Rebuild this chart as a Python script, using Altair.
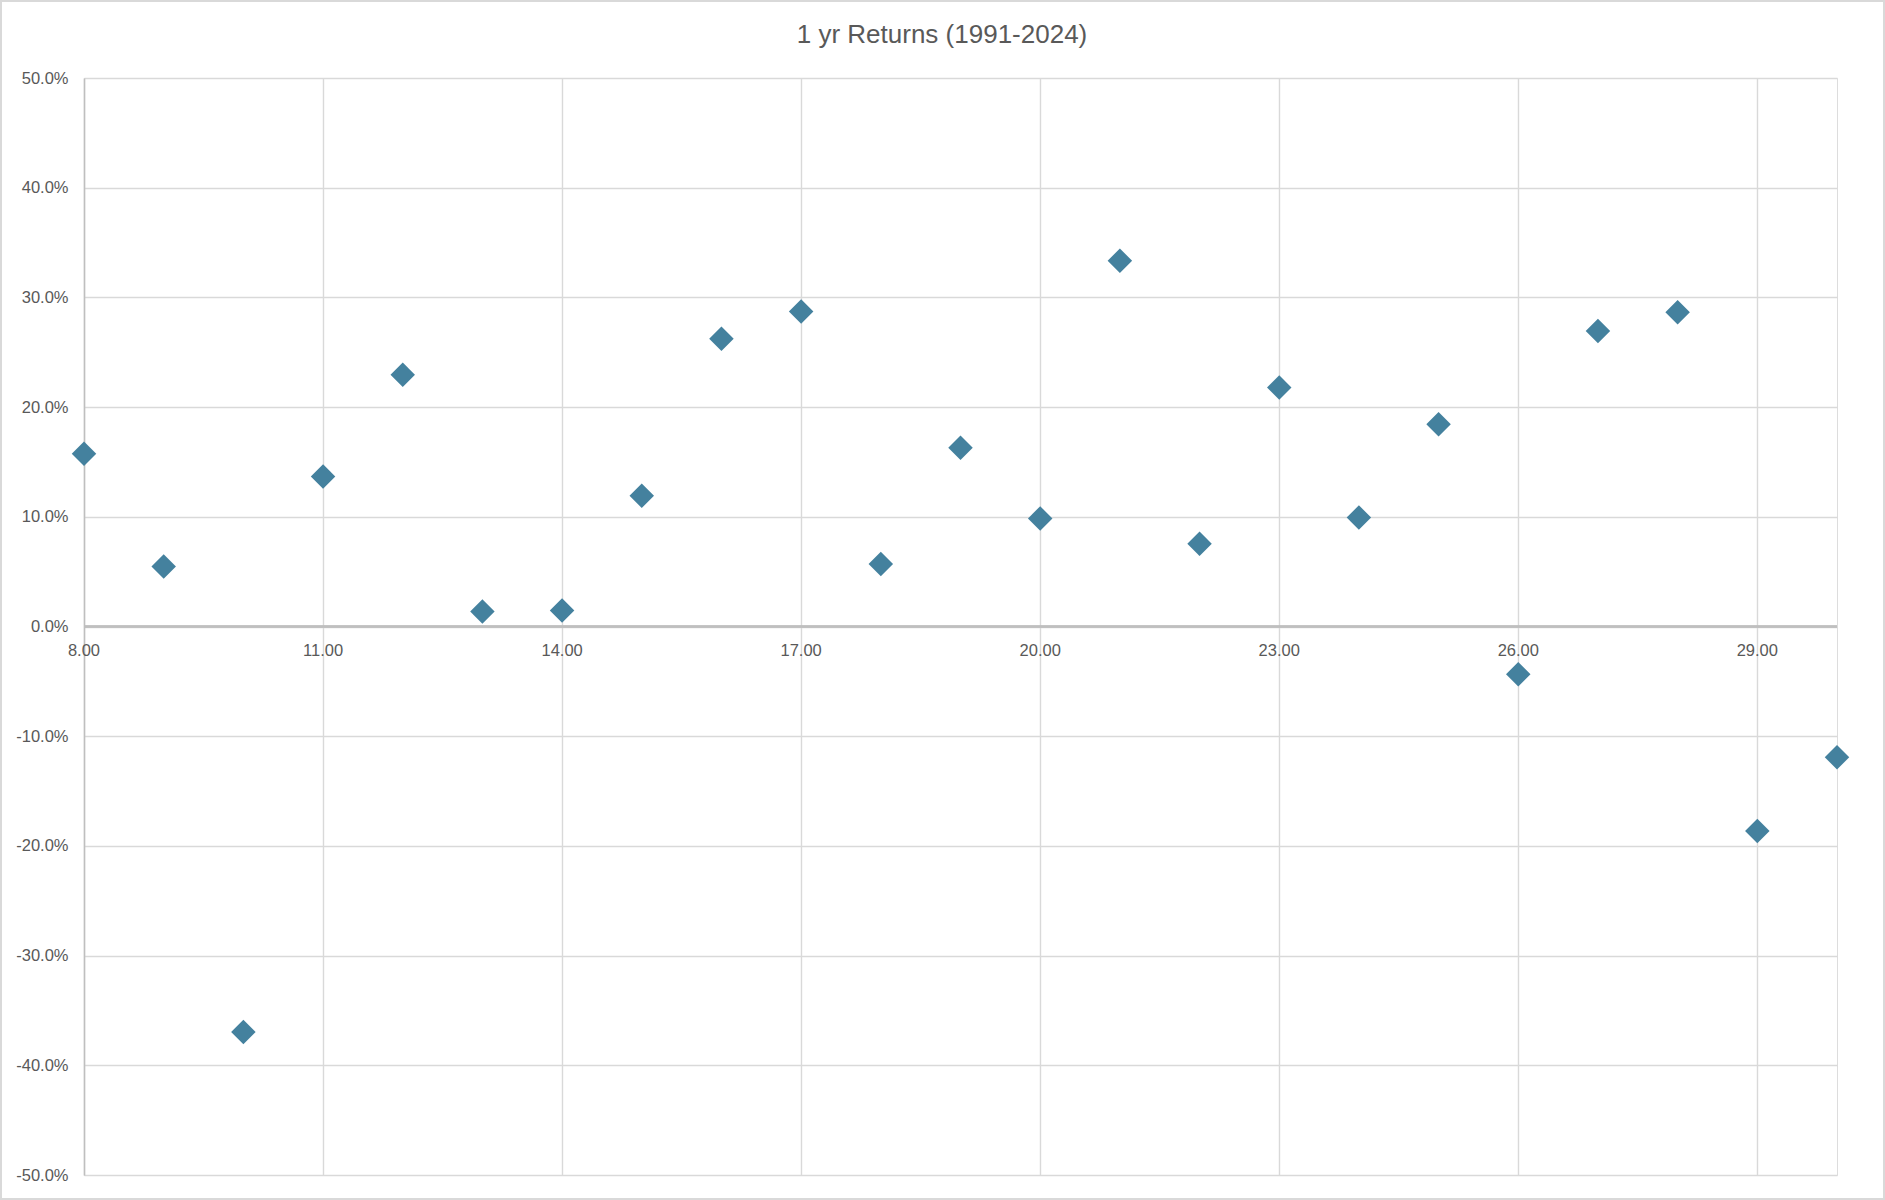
import altair as alt
import pandas as pd

# Data
x_values = [8, 9, 10, 11, 12, 13, 14, 15, 16, 17, 18, 19, 20, 21, 22, 23, 24, 25, 26, 27, 28, 29, 30]
returns = [0.1574, 0.0547, -0.3697, 0.1368, 0.2295, 0.0137, 0.0146, 0.1191, 0.2623, 0.2872,
           0.0570, 0.1630, 0.0985, 0.3334, 0.0754, 0.2178, 0.0993, 0.1843, -0.0436, 0.2694,
           0.2865, -0.1865, -0.1192]
x_ticks = [8, 11, 14, 17, 20, 23, 26, 29]
y_ticks = [-0.5, -0.4, -0.3, -0.2, -0.1, 0.0, 0.1, 0.2, 0.3, 0.4, 0.5]
title_text = "1 yr Returns (1991-2024)"

df = pd.DataFrame({"x": x_values, "ret": returns})
tick_df = pd.DataFrame({"x": x_ticks, "zero": [0.0] * len(x_ticks),
                        "label": [f"{v:.2f}" for v in x_ticks]})
title_df = pd.DataFrame({"t": [title_text]})

FONT = "Liberation Sans"
GRID = "#D9D9D9"
AXIS = "#BFBFBF"
LABEL = "#595959"
MARK = "#44819E"

xscale = alt.Scale(domain=[8, 30], nice=False, zero=False)
yscale = alt.Scale(domain=[-0.5, 0.5], nice=False)

points = alt.Chart(df).mark_point(shape="diamond", filled=True, size=600, opacity=1, color=MARK).encode(
    x=alt.X("x:Q", scale=xscale,
            axis=alt.Axis(values=x_ticks, grid=True, gridColor=GRID, gridWidth=1.4,
                          labels=False, ticks=False, domain=False, title=None)),
    y=alt.Y("ret:Q", scale=yscale,
            axis=alt.Axis(values=y_ticks, grid=True, gridColor=GRID, gridWidth=1.4,
                          ticks=False, domain=True, domainColor=AXIS, domainWidth=1.5,
                          labelExpr="(datum.value < 0 ? '-' : '') + format(abs(datum.value), '.1%')",
                          labelFont=FONT, labelFontSize=16.5, labelColor=LABEL,
                          labelPadding=16, title=None)),
)

zero_line = alt.Chart(tick_df).mark_rule(color=AXIS, strokeWidth=1.5).encode(
    y=alt.Y("zero:Q", scale=yscale),
    x=alt.value(0),
    x2=alt.value(1753),
)

x_labels = alt.Chart(tick_df).mark_text(
    font=FONT, fontSize=16.5, color=LABEL, dy=24, align="center", baseline="middle"
).encode(
    x=alt.X("x:Q", scale=xscale),
    y=alt.Y("zero:Q", scale=yscale),
    text="label:N",
)

title = alt.Chart(title_df).mark_text(
    font=FONT, fontSize=26, color=LABEL, align="center", baseline="middle"
).encode(
    x=alt.value(858),
    y=alt.value(-43),
    text="t:N",
)

border = alt.Chart(title_df).mark_rect(fill=None, stroke="#D9D9D9", strokeWidth=2).encode(
    x=alt.value(-83), x2=alt.value(1800),
    y=alt.value(-77), y2=alt.value(1121),
)

chart = alt.layer(zero_line, points, x_labels, title, border).properties(
    width=1753,
    height=1097,
    padding={"left": 84, "top": 78, "right": 48, "bottom": 25},
    autosize=alt.AutoSizeParams(type="none"),
).configure_view(stroke=None).configure(background="white")

chart.save("out.html", embed_options={"renderer": "svg", "actions": False})
